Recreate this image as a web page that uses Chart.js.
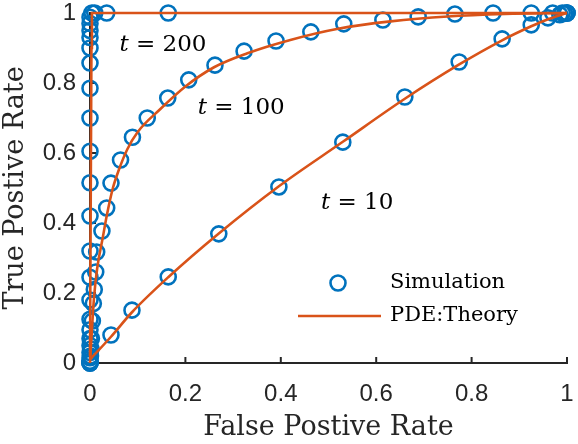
<!DOCTYPE html>
<html>
<head>
<meta charset="utf-8">
<script src="https://cdn.jsdelivr.net/npm/chart.js@4.4.1/dist/chart.umd.min.js"></script>
<style>
  html, body { margin: 0; padding: 0; background: #fff; }
  #wrap { width: 578px; height: 444px; }
</style>
</head>
<body>
<div id="wrap"><canvas id="roc"></canvas></div>
<script>
// simulation points (false positive rate, true positive rate)
var simT10X = [0, 0.044, 0.088, 0.164, 0.27, 0.396, 0.53, 0.66, 0.774, 0.864, 0.925, 0.96, 0.985, 0.995, 1];
var simT10Y = [0, 0.08, 0.151, 0.246, 0.369, 0.503, 0.631, 0.76, 0.86, 0.926, 0.966, 0.986, 0.995, 0.999, 1];

var simT100X = [0, 0.001, 0.002, 0.003, 0.005, 0.007, 0.009, 0.012, 0.014, 0.025, 0.035, 0.044, 0.064, 0.089, 0.12, 0.163, 0.207, 0.262, 0.323, 0.39, 0.463, 0.532, 0.614, 0.688, 0.765, 0.845, 0.925, 0.97, 0.99, 1];
var simT100Y = [0, 0.02, 0.04, 0.07, 0.12, 0.17, 0.21, 0.26, 0.317, 0.377, 0.443, 0.514, 0.58, 0.645, 0.70, 0.757, 0.809, 0.851, 0.891, 0.92, 0.946, 0.969, 0.98, 0.989, 0.997, 1, 1, 1, 1, 1];

var simT200X = [0, 0, 0, 0, 0, 0, 0, 0, 0, 0, 0, 0, 0, 0, 0, 0, 0, 0, 0, 0, 0, 0, 0.004, 0.01, 0.035, 0.164, 1];
var simT200Y = [0, 0.005, 0.015, 0.03, 0.05, 0.07, 0.095, 0.125, 0.18, 0.245, 0.32, 0.42, 0.515, 0.605, 0.70, 0.785, 0.857, 0.90, 0.93, 0.95, 0.97, 0.988, 1, 1, 1, 1, 1];

// PDE theory curves
var pdeT10X = [0, 0.044, 0.088, 0.164, 0.27, 0.396, 0.53, 0.66, 0.774, 0.864, 0.925, 0.96, 1];
var pdeT10Y = [0.01, 0.075, 0.145, 0.245, 0.37, 0.505, 0.632, 0.755, 0.853, 0.922, 0.962, 0.982, 1];

var pdeT100X = [0, 0.003, 0.008, 0.015, 0.027, 0.035, 0.048, 0.06, 0.078, 0.1, 0.147, 0.2, 0.26, 0.33, 0.42, 0.52, 0.63, 0.75, 0.87, 1];
var pdeT100Y = [0, 0.07, 0.18, 0.27, 0.36, 0.42, 0.50, 0.55, 0.61, 0.66, 0.725, 0.79, 0.845, 0.885, 0.923, 0.955, 0.976, 0.99, 0.997, 1];

var pdeT200X = [0, 0.003, 0.004, 1];
var pdeT200Y = [0.02, 0.9, 1, 1];

var axisTicks = [0, 0.2, 0.4, 0.6, 0.8, 1];

var blue = '#0072BD';
var orange = '#D95319';
var ink = '#262626';

function pts(xs, ys) {
	var out = [];
	for (var i = 0; i < xs.length; i++) {
		out.push({x: xs[i], y: ys[i]});
	}
	return out;
}

function simSet(xs, ys, label) {
	return {
		label: label,
		data: pts(xs, ys),
		showLine: false,
		pointStyle: 'circle',
		pointRadius: 7.5,
		pointHoverRadius: 7.5,
		pointBorderWidth: 2.6,
		pointBorderColor: blue,
		pointBackgroundColor: 'rgba(0,0,0,0)',
		clip: false,
		order: 2
	};
}

function pdeSet(xs, ys, label, tension) {
	return {
		label: label,
		data: pts(xs, ys),
		showLine: true,
		borderColor: orange,
		borderWidth: 2.6,
		pointRadius: 0,
		tension: tension,
		cubicInterpolationMode: tension > 0 ? 'monotone' : 'default',
		clip: false,
		order: 1
	};
}

// inward tick marks like the original
var innerTicks = {
	id: 'innerTicks',
	beforeDatasetsDraw: function(chart) {
		var ctx = chart.ctx;
		var x = chart.scales.x, y = chart.scales.y;
		var a = chart.chartArea;
		ctx.save();
		ctx.strokeStyle = ink;
		ctx.lineWidth = 2;
		axisTicks.forEach(function(v) {
			var px = x.getPixelForValue(v);
			ctx.beginPath();
			ctx.moveTo(px, a.bottom);
			ctx.lineTo(px, a.bottom - 6);
			ctx.stroke();
			var py = y.getPixelForValue(v);
			ctx.beginPath();
			ctx.moveTo(a.left, py);
			ctx.lineTo(a.left + 6, py);
			ctx.stroke();
		});
		ctx.restore();
	}
};

// "t = ..." labels and the legend box
var curveNotes = [
	{x: 0.153, y: 0.909, num: '200'},
	{x: 0.317, y: 0.729, num: '100'},
	{x: 0.56, y: 0.457, num: '10'}
];

var notes = {
	id: 'notes',
	afterDraw: function(chart) {
		var ctx = chart.ctx;
		var x = chart.scales.x, y = chart.scales.y;
		var a = chart.chartArea;
		ctx.save();
		ctx.fillStyle = '#000';
		ctx.textBaseline = 'middle';
		curveNotes.forEach(function(l) {
			var italic = 'italic 23px "DejaVu Serif"';
			var plain = '23px "DejaVu Serif"';
			var rest = ' = ' + l.num;
			ctx.font = italic;
			var w1 = ctx.measureText('t').width;
			ctx.font = plain;
			var w2 = ctx.measureText(rest).width;
			var sx = x.getPixelForValue(l.x) - (w1 + w2) / 2;
			var sy = y.getPixelForValue(l.y);
			ctx.font = italic;
			ctx.textAlign = 'left';
			ctx.fillText('t', sx, sy);
			ctx.font = plain;
			ctx.fillText(rest, sx + w1, sy);
		});

		// legend
		var lx = a.left + 208, ly = a.top + 270;
		ctx.strokeStyle = blue;
		ctx.lineWidth = 2.6;
		ctx.beginPath();
		ctx.arc(lx + 40, ly, 7.5, 0, Math.PI * 2);
		ctx.stroke();
		ctx.strokeStyle = orange;
		ctx.beginPath();
		ctx.moveTo(lx, ly + 33);
		ctx.lineTo(lx + 83, ly + 33);
		ctx.stroke();
		ctx.font = '21px "DejaVu Serif"';
		ctx.fillStyle = '#000';
		ctx.textAlign = 'left';
		ctx.fillText('Simulation', lx + 92, ly);
		ctx.fillText('PDE:Theory', lx + 92, ly + 33);
		ctx.restore();
	}
};

function noPad(s) {
	s.paddingTop = 0;
	s.paddingBottom = 0;
	s.paddingLeft = 0;
	s.paddingRight = 0;
}

var ctx = document.getElementById('roc').getContext('2d');
var chart = new Chart(ctx, {
	type: 'scatter',
	data: {
		datasets: [
			pdeSet(pdeT10X, pdeT10Y, 'PDE t=10', 0.3),
			pdeSet(pdeT100X, pdeT100Y, 'PDE t=100', 0.3),
			pdeSet(pdeT200X, pdeT200Y, 'PDE t=200', 0),
			simSet(simT10X, simT10Y, 'Simulation t=10'),
			simSet(simT100X, simT100Y, 'Simulation t=100'),
			simSet(simT200X, simT200Y, 'Simulation t=200')
		]
	},
	plugins: [innerTicks, notes],
	options: {
		responsive: true,
		maintainAspectRatio: false,
		animation: false,
		layout: { padding: { top: 13, right: 11, left: 0, bottom: 0 } },
		plugins: {
			legend: { display: false },
			tooltip: { enabled: false }
		},
		scales: {
			x: {
				type: 'linear',
				min: 0,
				max: 1,
				afterFit: function(s) { s.height = 81; noPad(s); },
				afterBuildTicks: function(s) { s.ticks = axisTicks.map(function(v) { return {value: v}; }); },
				grid: { display: false, drawTicks: false },
				border: { display: true, color: ink, width: 2 },
				ticks: {
					padding: 17,
					color: ink,
					font: { family: '"Liberation Sans"', size: 24 },
					callback: function(v) { return String(+v.toFixed(1)); }
				},
				title: {
					display: true,
					text: 'False Postive Rate',
					color: ink,
					padding: 0,
					font: { family: '"DejaVu Serif"', size: 27 }
				}
			},
			y: {
				type: 'linear',
				min: 0,
				max: 1,
				afterFit: function(s) { s.width = 90; noPad(s); },
				afterBuildTicks: function(s) { s.ticks = axisTicks.map(function(v) { return {value: v}; }); },
				grid: { display: false, drawTicks: false },
				border: { display: true, color: ink, width: 2 },
				ticks: {
					padding: 14,
					color: ink,
					font: { family: '"Liberation Sans"', size: 24 },
					callback: function(v) { return String(+v.toFixed(1)); }
				},
				title: {
					display: true,
					text: 'True Postive Rate',
					color: ink,
					padding: 0,
					font: { family: '"DejaVu Serif"', size: 27 }
				}
			}
		}
	}
});
</script>
</body>
</html>
